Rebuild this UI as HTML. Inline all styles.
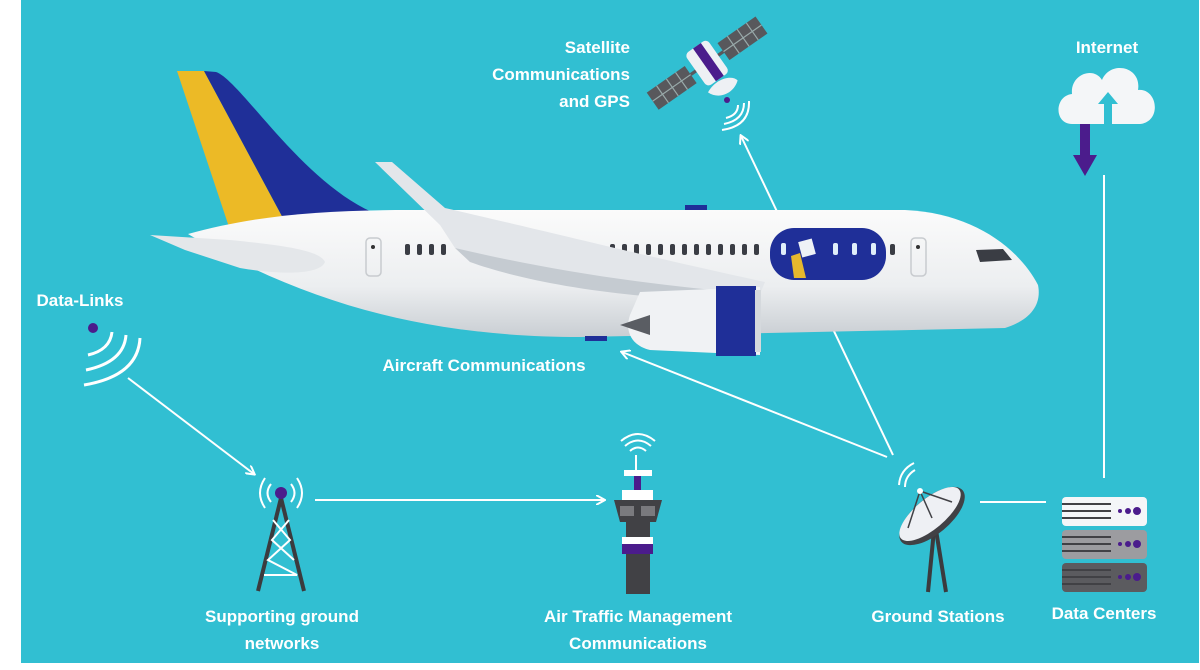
<!DOCTYPE html>
<html><head><meta charset="utf-8"><style>
html,body{margin:0;padding:0;background:#fff;}
svg{display:block;}
text{font-family:"Liberation Sans",sans-serif;font-weight:bold;fill:#fff;font-size:17px;}
</style></head><body>
<svg width="1200" height="670" viewBox="0 0 1200 670" xmlns="http://www.w3.org/2000/svg">
<defs>
<marker id="ah" markerWidth="10" markerHeight="10" refX="8" refY="5" orient="auto" markerUnits="userSpaceOnUse">
<path d="M0,0 L9,5 L0,10" fill="none" stroke="#fff" stroke-width="2"/></marker>
<linearGradient id="fus" x1="0" y1="0" x2="0" y2="1">
<stop offset="0" stop-color="#fbfbfb"/><stop offset="0.6" stop-color="#eceef0"/><stop offset="1" stop-color="#c9ced3"/></linearGradient>
</defs>
<rect x="21" y="0" width="1178" height="663" fill="#31bfd2"/>

<g stroke="#fff" stroke-width="2" fill="none">
<line x1="128" y1="378" x2="254" y2="474" marker-end="url(#ah)"/>
<line x1="315" y1="500" x2="604" y2="500" marker-end="url(#ah)"/>
<line x1="893" y1="455" x2="741" y2="136" marker-end="url(#ah)"/>
<line x1="887" y1="457" x2="622" y2="352" marker-end="url(#ah)"/>
<line x1="980" y1="502" x2="1046" y2="502"/>
<line x1="1104" y1="478" x2="1104" y2="175"/>
</g>

<path d="M177,71 L204,71 L284,220 L230,230 Z" fill="#ecba26"/>
<path d="M204,71 L216,72 C240,80 300,180 372,212 L284,220 Z" fill="#1f2f98"/>
<path d="M188,234 C260,214 330,210 410,210 L905,210 C975,213 1020,250 1038,285 C1042,305 1030,320 1005,328 L580,337 C420,337 300,300 188,234 Z" fill="url(#fus)"/>
<path d="M150,235 L230,240 C280,245 320,250 325,262 C320,275 280,275 240,268 L185,250 Z" fill="#e4e7ea"/>
<rect x="366" y="238" width="15" height="38" rx="4" fill="none" stroke="#c8cbcf" stroke-width="1.5"/>
<circle cx="373" cy="247" r="2" fill="#333"/>
<rect x="911" y="238" width="15" height="38" rx="4" fill="none" stroke="#c8cbcf" stroke-width="1.5"/>
<circle cx="918" cy="247" r="2" fill="#333"/>
<g fill="#3a3d44">
<rect x="405" y="244" width="5" height="11" rx="2"/><rect x="417" y="244" width="5" height="11" rx="2"/><rect x="429" y="244" width="5" height="11" rx="2"/><rect x="441" y="244" width="5" height="11" rx="2"/>
<rect x="610" y="244" width="5" height="11" rx="2"/><rect x="622" y="244" width="5" height="11" rx="2"/><rect x="634" y="244" width="5" height="11" rx="2"/><rect x="646" y="244" width="5" height="11" rx="2"/><rect x="658" y="244" width="5" height="11" rx="2"/><rect x="670" y="244" width="5" height="11" rx="2"/><rect x="682" y="244" width="5" height="11" rx="2"/><rect x="694" y="244" width="5" height="11" rx="2"/><rect x="706" y="244" width="5" height="11" rx="2"/><rect x="718" y="244" width="5" height="11" rx="2"/><rect x="730" y="244" width="5" height="11" rx="2"/><rect x="742" y="244" width="5" height="11" rx="2"/><rect x="754" y="244" width="5" height="11" rx="2"/>
<rect x="890" y="244" width="5" height="11" rx="2"/>
</g>
<rect x="770" y="228" width="116" height="52" rx="24" fill="#1f2f98"/>
<g fill="#dfeefa"><rect x="781" y="243" width="5" height="12" rx="2"/><rect x="833" y="243" width="5" height="12" rx="2"/><rect x="852" y="243" width="5" height="12" rx="2"/><rect x="871" y="243" width="5" height="12" rx="2"/></g>
<path d="M791,256 L800,253 L806,278 L794,278 Z" fill="#e6b82e"/>
<rect x="800" y="240" width="14" height="16" fill="#eef2f6" transform="rotate(-15 807 248)"/>
<path d="M976,250 L1003,249 L1012,260 L980,262 Z" fill="#3a3d44"/>
<path d="M375,162 L392,162 L445,208 C520,225 640,255 765,282 L760,294 L700,296 C600,285 500,262 455,248 L440,225 Z" fill="#e3e6ea"/>
<path d="M455,248 C540,268 640,285 760,294 L700,300 C600,295 520,280 470,262 Z" fill="#c5cbd1"/>
<path d="M640,292 L760,287 L760,355 L650,350 C630,345 625,330 630,315 Z" fill="#f0f2f4"/>
<path d="M620,325 L650,315 L650,335 Z" fill="#5a5d63"/>
<rect x="716" y="286" width="40" height="70" fill="#1f2f98"/>
<rect x="755" y="290" width="6" height="62" fill="#d5d9dd"/>
<rect x="685" y="205" width="22" height="5" fill="#1f2f98"/>
<rect x="585" y="336" width="22" height="5" fill="#1f2f98"/>

<g transform="translate(708 62) scale(0.8) translate(-705 -62)">
<g transform="rotate(-35 705 65)">
<rect x="730" y="50" width="58" height="26" fill="#58585c"/>
<rect x="622" y="50" width="58" height="26" fill="#58585c"/>
<g stroke="#9aa" stroke-width="1.5"><line x1="730" y1="63" x2="788" y2="63"/><line x1="622" y1="63" x2="680" y2="63"/>
<line x1="745" y1="50" x2="745" y2="76"/><line x1="760" y1="50" x2="760" y2="76"/><line x1="774" y1="50" x2="774" y2="76"/>
<line x1="637" y1="50" x2="637" y2="76"/><line x1="652" y1="50" x2="652" y2="76"/><line x1="666" y1="50" x2="666" y2="76"/></g>
<rect x="680" y="61" width="50" height="4" fill="#58585c"/>
<rect x="688" y="38" width="34" height="50" rx="6" fill="#eef0f4"/>
<rect x="701" y="38" width="12" height="50" fill="#4b1c8c"/>
</g>
<path d="M705,100 C715,82 735,78 742,85 C738,100 720,110 705,100 Z" fill="#eef0f4"/>
</g>
<circle cx="727" cy="100" r="3" fill="#4b1c8c"/>
<g stroke="#fff" stroke-width="2" fill="none"><path d="M726,118 Q738,115 738,105"/><path d="M724,124 Q744,120 744,103"/><path d="M722,130 Q750,126 749,101"/></g>

<path d="M1072,124 C1054,124 1054,96 1072,94 C1070,74 1094,66 1102,80 C1110,60 1142,66 1138,90 C1158,88 1162,122 1140,124 Z" fill="#f4f6f8"/>
<path d="M1108,92 L1098,104 L1104,104 L1104,124 L1112,124 L1112,104 L1118,104 Z" fill="#31bfd2"/>
<path d="M1080,124 L1090,124 L1090,155 L1097,155 L1085,176 L1073,155 L1080,155 Z" fill="#4b1c8c"/>

<circle cx="93" cy="328" r="5" fill="#4b1c8c"/>
<g stroke="#fff" stroke-width="3" fill="none"><path d="M88,355 Q110,350 112,332"/><path d="M86,370 Q124,362 126,335"/><path d="M84,385 Q138,376 140,338"/></g>

<g stroke="#3b3b3e" stroke-width="4" fill="none"><line x1="281" y1="498" x2="258" y2="591"/><line x1="281" y1="498" x2="304" y2="591"/></g>
<g stroke="#fff" stroke-width="2" fill="none"><path d="M273,520 L290,540 L268,560 L297,575 L264,575"/><path d="M289,520 L272,540 L294,560"/></g>
<circle cx="281" cy="493" r="6" fill="#4b1c8c"/>
<g stroke="#fff" stroke-width="2" fill="none"><path d="M271,484 Q264,493 271,502"/><path d="M265,478 Q255,493 265,508"/><path d="M291,484 Q298,493 291,502"/><path d="M297,478 Q307,493 297,508"/></g>

<g stroke="#fff" stroke-width="2" fill="none"><path d="M630,451 Q638,444 646,451"/><path d="M625,446 Q638,435 651,446"/><path d="M621,441 Q638,427 655,441"/></g>
<line x1="636" y1="455" x2="636" y2="470" stroke="#fff" stroke-width="2"/>
<rect x="624" y="470" width="28" height="6" fill="#fff"/>
<rect x="634" y="476" width="7" height="14" fill="#4b1c8c"/>
<rect x="622" y="490" width="31" height="10" fill="#fff"/>
<path d="M614,500 L662,500 L656,522 L620,522 Z" fill="#414145"/>
<rect x="620" y="506" width="14" height="10" fill="#7a7a7e"/><rect x="641" y="506" width="14" height="10" fill="#7a7a7e"/>
<rect x="626" y="522" width="24" height="72" fill="#414145"/>
<rect x="622" y="537" width="31" height="7" fill="#fff"/>
<rect x="622" y="544" width="31" height="10" fill="#4b1c8c"/>

<g stroke="#fff" stroke-width="2" fill="none"><path d="M905,487 Q905,476 915,470"/><path d="M899,485 Q900,470 914,463"/></g>
<g stroke="#3b3b3e" stroke-width="4"><line x1="934" y1="530" x2="928" y2="592"/><line x1="936" y1="530" x2="946" y2="592"/></g>
<ellipse cx="932" cy="516" rx="40" ry="18" transform="rotate(-40 932 516)" fill="#414145"/>
<ellipse cx="930" cy="514" rx="38" ry="15" transform="rotate(-40 930 514)" fill="#eef0f4"/>
<g stroke="#414145" stroke-width="1.5"><line x1="920" y1="491" x2="908" y2="528"/><line x1="920" y1="491" x2="932" y2="518"/><line x1="920" y1="491" x2="952" y2="502"/></g>
<circle cx="920" cy="491" r="3" fill="#fff"/>

<rect x="1062" y="497" width="85" height="29" rx="4" fill="#f4f6f8"/>
<rect x="1062" y="530" width="85" height="29" rx="4" fill="#9c9ca0"/>
<rect x="1062" y="563" width="85" height="29" rx="4" fill="#5b5b5f"/>
<g stroke="#414145" stroke-width="2">
<line x1="1062" y1="504" x2="1111" y2="504"/><line x1="1062" y1="511" x2="1111" y2="511"/><line x1="1062" y1="518" x2="1111" y2="518"/>
<line x1="1062" y1="537" x2="1111" y2="537"/><line x1="1062" y1="544" x2="1111" y2="544"/><line x1="1062" y1="551" x2="1111" y2="551"/>
<line x1="1062" y1="570" x2="1111" y2="570"/><line x1="1062" y1="577" x2="1111" y2="577"/><line x1="1062" y1="584" x2="1111" y2="584"/>
</g>
<g fill="#4b1c8c">
<circle cx="1120" cy="511" r="2"/><circle cx="1128" cy="511" r="3"/><circle cx="1137" cy="511" r="4"/>
<circle cx="1120" cy="544" r="2"/><circle cx="1128" cy="544" r="3"/><circle cx="1137" cy="544" r="4"/>
<circle cx="1120" cy="577" r="2"/><circle cx="1128" cy="577" r="3"/><circle cx="1137" cy="577" r="4"/>
</g>

<g text-anchor="end"><text x="630" y="53">Satellite</text><text x="630" y="80">Communications</text><text x="630" y="107">and GPS</text></g>
<g text-anchor="middle">
<text x="1107" y="53">Internet</text>
<text x="80" y="306">Data-Links</text>
<text x="484" y="371">Aircraft Communications</text>
<text x="282" y="622">Supporting ground</text><text x="282" y="649">networks</text>
<text x="638" y="622">Air Traffic Management</text><text x="638" y="649">Communications</text>
<text x="938" y="622">Ground Stations</text>
<text x="1104" y="619">Data Centers</text>
</g>
</svg>
</body></html>
